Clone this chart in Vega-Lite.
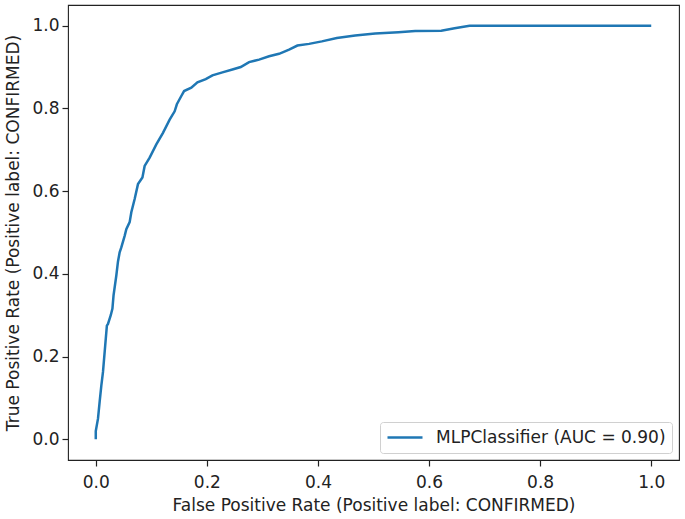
{
  "$schema": "https://vega.github.io/schema/vega-lite/v6.json",
  "width": 611,
  "height": 455,
  "autosize": "none",
  "padding": {"left": 68, "top": 5, "right": 6, "bottom": 59},
  "background": "white",
  "config": {
    "view": {"stroke": "#222", "strokeWidth": 1.1},
    "font": "DejaVu Sans",
    "axis": {
      "domain": false,
      "grid": false,
      "tickColor": "#222",
      "tickSize": 6,
      "tickWidth": 1.2,
      "labelFont": "DejaVu Sans",
      "labelFontSize": 17,
      "labelColor": "#222",
      "titleFont": "DejaVu Sans",
      "titleFontSize": 17,
      "titleFontWeight": "normal",
      "titleColor": "#222"
    },
    "legend": {
      "labelFont": "DejaVu Sans",
      "labelFontSize": 17,
      "labelColor": "#222",
      "labelLimit": 0
    }
  },
  "data": {
    "values": [
      {"fpr": 0.0, "tpr": 0.0},
      {"fpr": 0.0, "tpr": 0.02},
      {"fpr": 0.004, "tpr": 0.05},
      {"fpr": 0.007, "tpr": 0.091},
      {"fpr": 0.010, "tpr": 0.13},
      {"fpr": 0.013, "tpr": 0.163},
      {"fpr": 0.017, "tpr": 0.227},
      {"fpr": 0.020, "tpr": 0.275},
      {"fpr": 0.022, "tpr": 0.279},
      {"fpr": 0.027, "tpr": 0.30},
      {"fpr": 0.030, "tpr": 0.316},
      {"fpr": 0.032, "tpr": 0.348},
      {"fpr": 0.037, "tpr": 0.396},
      {"fpr": 0.040, "tpr": 0.43},
      {"fpr": 0.043, "tpr": 0.452},
      {"fpr": 0.046, "tpr": 0.464},
      {"fpr": 0.052, "tpr": 0.492},
      {"fpr": 0.055, "tpr": 0.508},
      {"fpr": 0.061, "tpr": 0.525},
      {"fpr": 0.064, "tpr": 0.549},
      {"fpr": 0.070, "tpr": 0.581},
      {"fpr": 0.076, "tpr": 0.617},
      {"fpr": 0.084, "tpr": 0.633},
      {"fpr": 0.088, "tpr": 0.661},
      {"fpr": 0.097, "tpr": 0.681},
      {"fpr": 0.109, "tpr": 0.713},
      {"fpr": 0.121, "tpr": 0.741},
      {"fpr": 0.133, "tpr": 0.773},
      {"fpr": 0.142, "tpr": 0.793},
      {"fpr": 0.146, "tpr": 0.810},
      {"fpr": 0.154, "tpr": 0.830},
      {"fpr": 0.159, "tpr": 0.842},
      {"fpr": 0.172, "tpr": 0.850},
      {"fpr": 0.183, "tpr": 0.863},
      {"fpr": 0.198, "tpr": 0.871},
      {"fpr": 0.210, "tpr": 0.880},
      {"fpr": 0.228, "tpr": 0.887},
      {"fpr": 0.246, "tpr": 0.894},
      {"fpr": 0.261, "tpr": 0.900},
      {"fpr": 0.276, "tpr": 0.912},
      {"fpr": 0.294, "tpr": 0.918},
      {"fpr": 0.312, "tpr": 0.926},
      {"fpr": 0.330, "tpr": 0.932},
      {"fpr": 0.348, "tpr": 0.942},
      {"fpr": 0.363, "tpr": 0.952},
      {"fpr": 0.384, "tpr": 0.956},
      {"fpr": 0.407, "tpr": 0.962},
      {"fpr": 0.434, "tpr": 0.970},
      {"fpr": 0.467, "tpr": 0.976},
      {"fpr": 0.503, "tpr": 0.981},
      {"fpr": 0.545, "tpr": 0.984},
      {"fpr": 0.575, "tpr": 0.987},
      {"fpr": 0.622, "tpr": 0.988},
      {"fpr": 0.646, "tpr": 0.994},
      {"fpr": 0.673, "tpr": 1.0},
      {"fpr": 1.0, "tpr": 1.0}
    ]
  },
  "transform": [{"calculate": "'MLPClassifier (AUC = 0.90)'", "as": "model"}],
  "mark": {"type": "line", "strokeWidth": 2.5, "clip": true},
  "encoding": {
    "x": {
      "field": "fpr",
      "type": "quantitative",
      "scale": {"domain": [-0.05, 1.05], "nice": false, "zero": false},
      "axis": {
        "title": "False Positive Rate (Positive label: CONFIRMED)",
        "values": [0, 0.2, 0.4, 0.6, 0.8, 1.0],
        "format": ".1f",
        "labelPadding": 8,
        "titlePadding": 7
      }
    },
    "y": {
      "field": "tpr",
      "type": "quantitative",
      "scale": {"domain": [-0.05, 1.05], "nice": false, "zero": false},
      "axis": {
        "title": "True Positive Rate (Positive label: CONFIRMED)",
        "values": [0, 0.2, 0.4, 0.6, 0.8, 1.0],
        "format": ".1f",
        "labelPadding": 3,
        "titlePadding": 9
      }
    },
    "order": [{"field": "fpr"}, {"field": "tpr"}],
    "color": {
      "field": "model",
      "type": "nominal",
      "scale": {"range": ["#1f77b4"]},
      "legend": {
        "title": null,
        "orient": "bottom-right",
        "offset": 7,
        "symbolType": "stroke",
        "symbolSize": 1225,
        "symbolStrokeWidth": 2.5,
        "labelOffset": 12,
        "padding": 6,
        "clipHeight": 19,
        "strokeColor": "#d0d0d0",
        "fillColor": "white",
        "cornerRadius": 3
      }
    }
  }
}
